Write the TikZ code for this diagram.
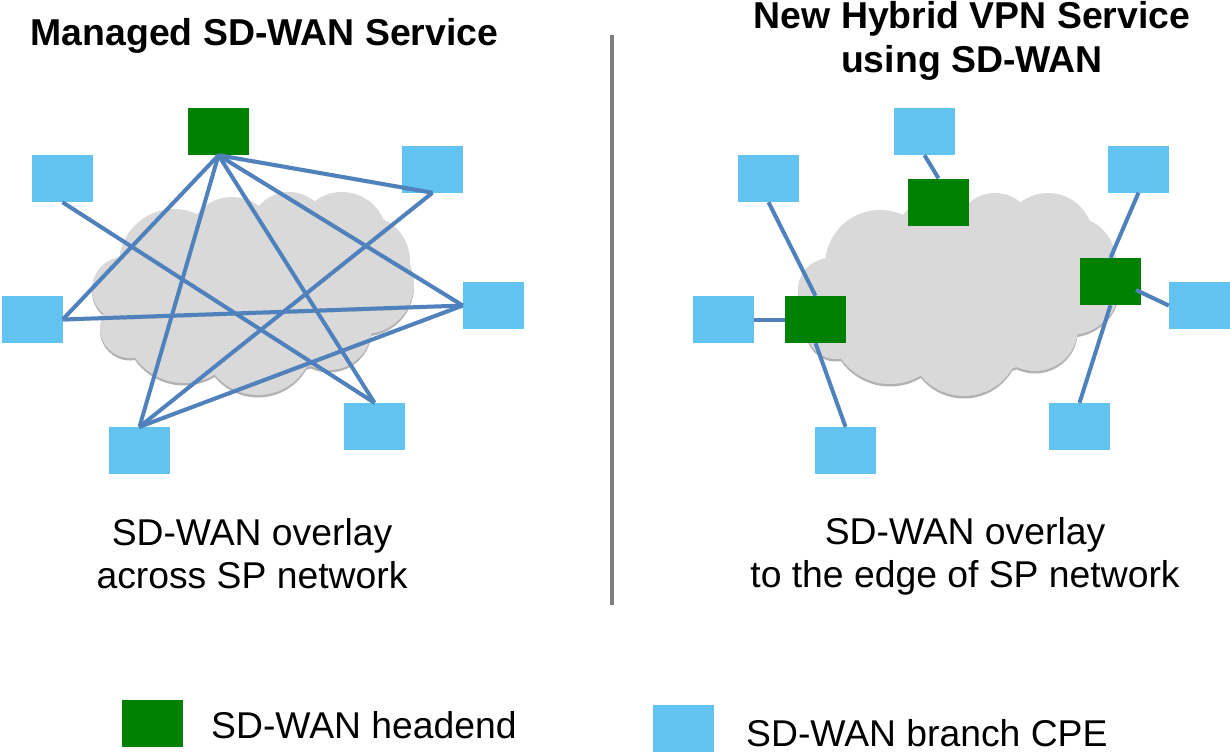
\documentclass[tikz,border=0pt]{standalone}
\usepackage{fontspec}
\setmainfont{Liberation Sans}
\usetikzlibrary{shadows}
\definecolor{cpeblue}{HTML}{62C3F0}
\definecolor{headgreen}{HTML}{008000}
\definecolor{linkblue}{HTML}{4F81BD}
\definecolor{cloudgray}{HTML}{D9D9D9}
\newcommand{\cloudpath}{(960,295) ellipse[x radius=130,y radius=80]
	(880,265) circle[radius=55] (938,243) circle[radius=45] (995,232) circle[radius=39]
	(1048,238) circle[radius=45] (1070,262) circle[radius=46] (1070,285) circle[radius=50]
	(1035,328) circle[radius=43] (964,340) circle[radius=56] (890,324) circle[radius=60]
	(836,329) circle[radius=30] (830,290) circle[radius=32]}

\begin{document}
\begin{tikzpicture}[x=1pt,y=-1pt]
		\tikzstyle{CpeStyle}   = [shape=rectangle,minimum width=61,minimum height=47,inner sep=0,fill=cpeblue]
		\tikzstyle{HeadStyle}  = [CpeStyle,fill=headgreen]
		\tikzstyle{LinkStyle}  = [line width=4,draw=linkblue,preaction={draw=black,opacity=.2,transform canvas={yshift=-2pt}}]
		\tikzstyle{CloudStyle} = [fill=cloudgray,drop shadow={shadow xshift=0pt,shadow yshift=-2.5pt,fill=black,opacity=.3}]
		\tikzstyle{TitleStyle} = [font=\fontsize{37.4}{44}\selectfont\bfseries,align=center,inner sep=0]
		\tikzstyle{TextStyle}  = [font=\fontsize{37.3}{43}\selectfont,align=center,inner sep=0]

		\useasboundingbox (0,0) rectangle (1230,752);

		\node[TitleStyle] (leftTitle) at (264.5,36) {Managed SD-WAN Service};
		\node[TitleStyle] (rightTitle) at (972,41) {New Hybrid VPN Service\\using SD-WAN};
		\node[TextStyle] (leftText) at (252,554) {SD-WAN overlay\\across SP network};
		\node[TextStyle] (rightText) at (965,556) {SD-WAN overlay\\to the edge of SP network};

		\coordinate (dividerTop) at (612,35);
		\coordinate (dividerEnd) at (612,605);
		\draw[line width=3.5,draw=gray] (dividerTop)--(dividerEnd);

		\begin{scope}[shift={(-706,-1)}]
			\fill[CloudStyle] \cloudpath;
		\end{scope}
		\fill[CloudStyle] \cloudpath;

		\node[HeadStyle] (leftHead) at (218.5,131.5) {};
		\node[CpeStyle] (leftA) at (62.5,178.5) {};
		\node[CpeStyle] (leftB) at (432.5,169) {};
		\node[CpeStyle] (leftC) at (32,319.5) {};
		\node[CpeStyle] (leftD) at (493.5,305.5) {};
		\node[CpeStyle] (leftE) at (139.5,450.5) {};
		\node[CpeStyle] (leftF) at (374.5,426.5) {};

		\draw[LinkStyle] (leftHead.south)--(leftC.east); \draw[LinkStyle] (leftHead.south)--(leftE.north);
		\draw[LinkStyle] (leftHead.south)--(leftF.north); \draw[LinkStyle] (leftHead.south)--(leftD.west);
		\draw[LinkStyle] (leftHead.south)--(leftB.south); \draw[LinkStyle] (leftA.south)--(leftF.north);
		\draw[LinkStyle] (leftB.south)--(leftE.north); \draw[LinkStyle] (leftC.east)--(leftD.west);
		\draw[LinkStyle] (leftE.north)--(leftD.west);

		\node[CpeStyle] (rightA) at (924.5,131.5) {};
		\node[CpeStyle] (rightB) at (768.5,178.5) {};
		\node[CpeStyle] (rightC) at (1138.5,169) {};
		\node[CpeStyle] (rightD) at (723.5,319.5) {};
		\node[CpeStyle] (rightE) at (1199.5,305.5) {};
		\node[CpeStyle] (rightF) at (845.5,450.5) {};
		\node[CpeStyle] (rightG) at (1079.5,426.5) {};
		\node[HeadStyle] (headTop) at (938.5,202) {};
		\node[HeadStyle] (headLeft) at (815.5,319.5) {};
		\node[HeadStyle] (headRight) at (1110.5,281.5) {};
		\coordinate (headRightIn) at (1136,290);

		\draw[LinkStyle] (rightA.south)--(headTop.north);
		\draw[LinkStyle] (rightB.south)--(headLeft.north);
		\draw[LinkStyle] (rightD.east)--(headLeft.west);
		\draw[LinkStyle] (headLeft.south)--(rightF.north);
		\draw[LinkStyle] (rightC.south)--(headRight.north);
		\draw[LinkStyle] (headRightIn)--(rightE.west);
		\draw[LinkStyle] (headRight.south)--(rightG.north);

		\node[HeadStyle] (legendHead) at (152.5,723.5) {};
		\node[CpeStyle] (legendCpe) at (683.5,728.5) {};
		\node[TextStyle,anchor=west] (legendHeadText) at (211,725) {SD-WAN headend};
		\node[TextStyle,anchor=west] (legendCpeText) at (746,733) {SD-WAN branch CPE};
	\end{tikzpicture}
\end{document}
